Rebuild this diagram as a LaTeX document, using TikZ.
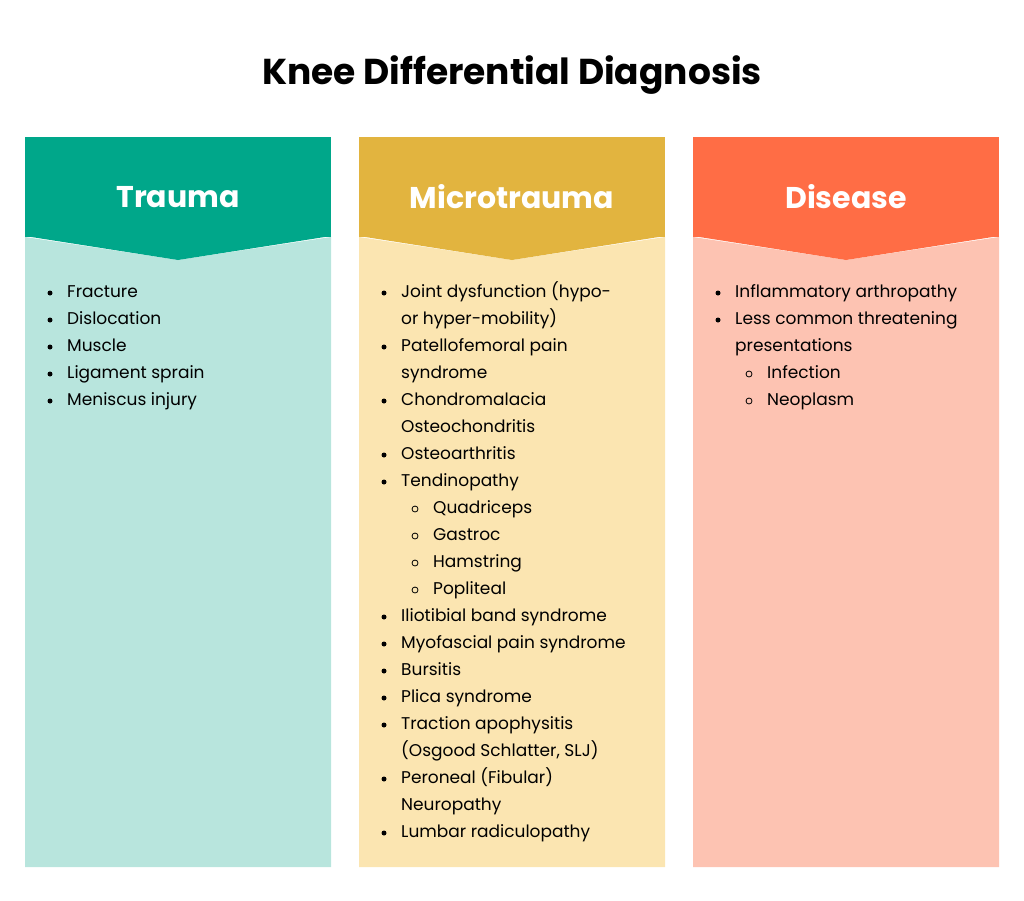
\documentclass[tikz,border=0pt]{standalone}
\usepackage{fontspec}
\setmainfont{Poppins}
\usetikzlibrary{positioning}
\definecolor{traumaHead}{HTML}{00A78A}
\definecolor{traumaBody}{HTML}{B8E5DD}
\definecolor{microHead}{HTML}{E2B43F}
\definecolor{microBody}{HTML}{FBE5B1}
\definecolor{diseaseHead}{HTML}{FF6D45}
\definecolor{diseaseBody}{HTML}{FDC3B2}
\tikzset{
  item/.style={anchor=west,inner sep=0pt,text height=13pt,text depth=4pt,font=\fontsize{17}{20}\selectfont},
  head/.style={text=white,font=\fontsize{30}{34}\selectfont\bfseries},
  dot/.style={circle,fill=black,inner sep=0pt,minimum size=5pt},
  odot/.style={circle,draw=black,line width=0.8pt,inner sep=0pt,minimum size=6pt}
}
% one column: left x, header colour, body colour, title, name
\newcommand{\column}[5]{%
  \fill[#3] (#1,237) -- (#1+153,260) -- (#1+306,237) -- (#1+306,867) -- (#1,867) -- cycle;
  \fill[#2] (#1,137) rectangle (#1+306,237);
  \fill[#2] (#1,236) -- (#1+153,260) -- (#1+306,236) -- cycle;
  \node[head] (#5-title) at (#1+153,197) {#4};
}
% items: level 1 = bullet, 2 = sub bullet, 0 = continued line
\newcommand{\items}[3]{%
  \foreach \lev/\txt [count=\i] in {#3} {
    \pgfmathsetmacro{\yy}{293+27*(\i-1)}
    \ifnum\lev=2
      \node[odot] (#2-b\i) at (#1+56,\yy) {};
      \node[item] (#2-t\i) at (#1+74,\yy) {\txt};
    \else
      \ifnum\lev=1 \node[dot] (#2-b\i) at (#1+25,\yy) {}; \fi
      \node[item] (#2-t\i) at (#1+42,\yy) {\txt};
    \fi
  }
}
\begin{document}
\begin{tikzpicture}[x=1pt,y=-1pt]
  \useasboundingbox (0,0) rectangle (1024,900);
  \node[font=\fontsize{36}{40}\selectfont\bfseries] (title) at (512,75) {Knee Differential Diagnosis};

  \column{25}{traumaHead}{traumaBody}{Trauma}{trauma}
  \column{359}{microHead}{microBody}{Microtrauma}{micro}
  \column{693}{diseaseHead}{diseaseBody}{Disease}{disease}

  \items{25}{trauma}{1/Fracture, 1/Dislocation/ Subluxation, 1/Muscle/ Tendon strain,
    1/Ligament sprain, 1/Meniscus injury}
  \items{359}{micro}{1/Joint dysfunction (hypo-, 0/or hyper-mobility), 1/Patellofemoral pain,
    0/syndrome, 1/Chondromalacia/, 0/Osteochondritis, 1/Osteoarthritis, 1/Tendinopathy,
    2/Quadriceps/ Patellar, 2/Gastroc/ soleus, 2/Hamstring, 2/Popliteal,
    1/Iliotibial band syndrome, 1/Myofascial pain syndrome, 1/Bursitis, 1/Plica syndrome,
    1/Traction apophysitis, 0/{(Osgood Schlatter, SLJ)}, 1/Peroneal (Fibular),
    0/Neuropathy, 1/Lumbar radiculopathy}
  \items{693}{disease}{1/Inflammatory arthropathy, 1/Less common threatening,
    0/presentations, 2/Infection, 2/Neoplasm}
\end{tikzpicture}
\end{document}
